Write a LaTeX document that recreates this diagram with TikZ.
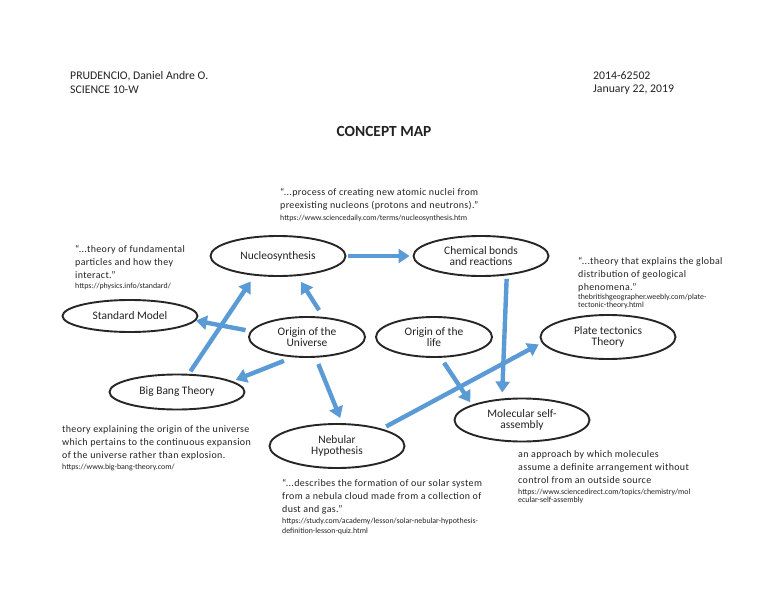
\documentclass[tikz,border=0pt]{standalone}
\usepackage{fontspec}
\setmainfont{Carlito}
\newfontfamily\quotefont[LetterSpace=3.5]{Carlito}
\usetikzlibrary{arrows.meta,shapes.geometric}
\definecolor{arrowblue}{HTML}{5B9BD5}
\definecolor{inktext}{HTML}{222222}
\tikzset{
  concept/.style={draw=black!85,ellipse,line width=1.9bp,inner sep=0pt,text=inktext,align=center,
    minimum width=135bp,minimum height=40bp,font=\fontsize{11.5}{10.2}\selectfont},
  headtext/.style={anchor=west,inner sep=0pt,text=inktext,font=\fontsize{11.8}{14}\selectfont},
  quotetext/.style={anchor=north west,inner sep=0pt,align=left,text=inktext,font=\quotefont\fontsize{10}{13.3}\selectfont},
  urltext/.style={anchor=north west,inner sep=0pt,align=left,text=inktext,font=\fontsize{7.9}{8.2}\selectfont},
  link/.style={draw=arrowblue,line width=4.4bp,-{Triangle[width=14bp,length=11bp]}}
}
\begin{document}
\begin{tikzpicture}[x=1bp,y=-1bp]
 \useasboundingbox (0,0) rectangle (768,594);
 % header
 \node[headtext] (name) at (70,76) {PRUDENCIO, Daniel Andre O.};
 \node[headtext] (section) at (70,90) {SCIENCE 10-W};
 \node[headtext] (idno) at (593,76) {2014-62502};
 \node[headtext] (date) at (593,90) {January 22, 2019};
 \node[inner sep=0pt,text=inktext,font=\bfseries\fontsize{15.5}{16}\selectfont] (title) at (384,131) {CONCEPT MAP};
 % concepts
 \node[concept] (nucleo) at (278,256) {Nucleosynthesis};
 \node[concept] (chem) at (481,256) {Chemical bonds\\and reactions};
 \node[concept,minimum height=32bp] (standard) at (130,316) {Standard Model};
 \node[concept,minimum width=116bp] (origin) at (307,337) {Origin of the\\Universe};
 \node[concept,minimum width=116bp] (life) at (434,337) {Origin of the\\life};
 \node[concept,minimum height=44bp] (plate) at (608,337) {Plate tectonics\\Theory};
 \node[concept,minimum height=35bp] (bigbang) at (177,392) {Big Bang Theory};
 \node[concept,minimum height=43bp] (molecular) at (522,420) {Molecular self-\\assembly};
 \node[concept,minimum height=44bp] (nebular) at (337,446) {Nebular\\Hypothesis};
 % arrows
 \draw[link,shorten <=2bp,shorten >=3bp] (nucleo.east) -- (chem.west);
 \draw[link,shorten <=8bp,shorten >=7bp] (origin.51.6) -- (nucleo.314);
 \draw[link,shorten <=5bp] (origin.174.4) -- (standard.356);
 \draw[link,shorten <=9.5bp,shorten >=3.5bp] (origin.235.8) -- (bigbang.11.5);
 \draw[link,shorten <=6.8bp,shorten >=5.5bp] (origin.293.3) -- (nebular.77);
 \draw[link,shorten <=3bp,shorten >=7bp] (bigbang.57) -- (nucleo.220.6);
 \draw[link,shorten <=4.7bp,shorten >=3.5bp] (nebular.21) -- (plate.185.6);
 \draw[link,shorten <=6bp,shorten >=3bp] (life.288.5) -- (molecular.163.7);
 \draw[link,shorten <=3.5bp,shorten >=6bp] (chem.323.6) -- (molecular.133.8);
 % quotes
 \node[quotetext] (nucleotext) at (280,188) {“...process of creating new atomic nuclei from\\preexisting nucleons (protons and neutrons).”};
 \node[urltext] (nucleourl) at (280,215) {https://www.sciencedaily.com/terms/nucleosynthesis.htm};
 \node[quotetext] (standardtext) at (75,245) {“...theory of fundamental\\particles and how they\\interact.”};
 \node[urltext] (standardurl) at (75,283) {https://physics.info/standard/};
 \node[quotetext] (platetext) at (578,257) {“...theory that explains the global\\distribution of geological\\phenomena.”};
 \node[urltext] (plateurl) at (578,294) {thebritishgeographer.weebly.com/plate-\\tectonic-theory.html};
 \node[quotetext] (bigbangtext) at (62,425) {theory explaining the origin of the universe\\which pertains to the continuous expansion\\of the universe rather than explosion.};
 \node[urltext] (bigbangurl) at (62,464) {https://www.big-bang-theory.com/};
 \node[quotetext] (nebulartext) at (282,479) {“...describes the formation of our solar system\\from a nebula cloud made from a collection of\\dust and gas.”};
 \node[urltext] (nebularurl) at (282,518) {https://study.com/academy/lesson/solar-nebular-hypothesis-\\[1.5bp]definition-lesson-quiz.html};
 \node[quotetext] (moleculartext) at (518,450) {an approach by which molecules\\assume a definite arrangement without\\control from an outside source};
 \node[urltext] (molecularurl) at (518,489) {https://www.sciencedirect.com/topics/chemistry/mol\\ecular-self-assembly};
\end{tikzpicture}
\end{document}
